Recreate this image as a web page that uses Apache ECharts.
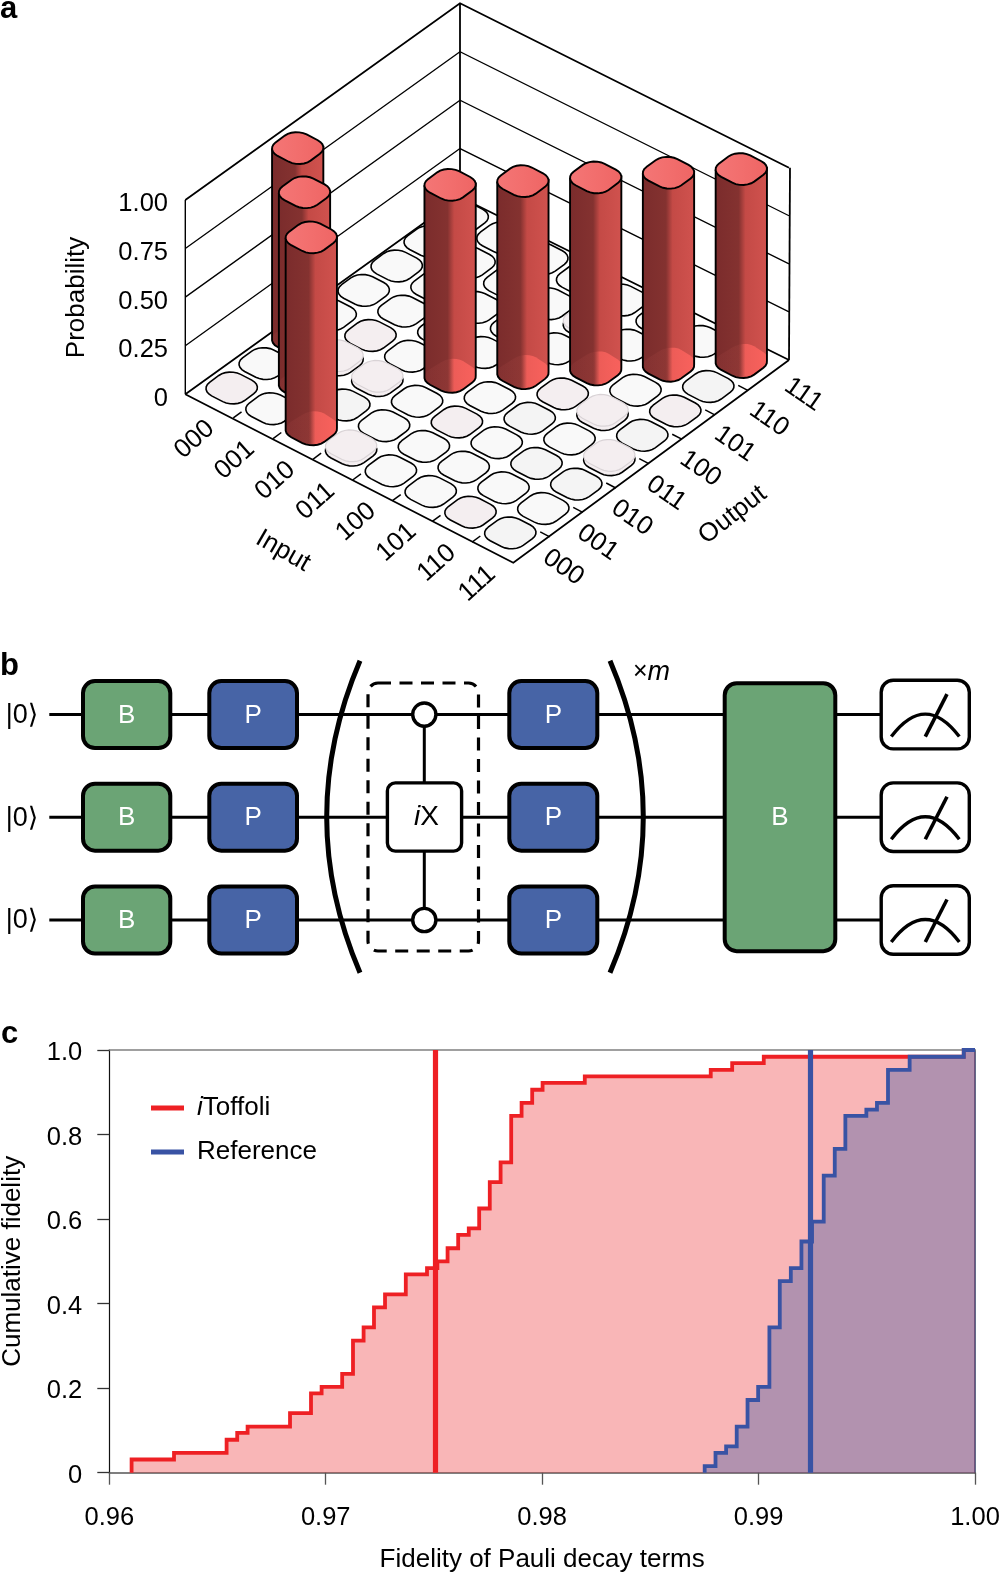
<!DOCTYPE html>
<html><head><meta charset="utf-8">
<style>html,body{margin:0;padding:0;background:#fff}#chart{width:1000px;height:1573px}</style>
<script src="https://cdn.jsdelivr.net/npm/echarts@6/dist/echarts.min.js"></script>
</head><body><div id="chart"></div>
<script>
// ---------- DATA ----------
const inputLabels = ['000','001','010','011','100','101','110','111'];
const outputLabels = ['000','001','010','011','100','101','110','111'];
const probabilityTicks = [0, 0.25, 0.5, 0.75, 1];
const probabilityTickLabels = ['0','0.25','0.50','0.75','1.00'];
// rows: input, columns: output
const probabilityMatrix = [
 [.012,.004,.985,.004,.004,.004,.004,.004],
 [.004,.990,.022,.012,.004,.004,.004,.004],
 [.990,.006,.022,.004,.004,.004,.004,.004],
 [.022,.004,.004,.990,.004,.004,.004,.004],
 [.004,.004,.012,.004,.990,.004,.022,.004],
 [.004,.004,.004,.006,.012,.990,.004,.004],
 [.012,.004,.006,.004,.022,.004,.995,.004],
 [.006,.004,.006,.022,.006,.012,.006,.995]
];
const gateRows = ['|0⟩','|0⟩','|0⟩'];
const fidelityTicks = [0.96,0.97,0.98,0.99,1.00];
const iToffoliX = [.96103,.96103,.96299,.96542,.96591,.96639,.96835,.96932,.96981,.97076,.97126,.97175,.97223,.97274,.97370,.97468,.97516,.97563,.97612,.97661,.97709,.97758,.97808,.97857,.97905,.97954,.98002,.98197,.98779,.98878,.99024,.99948,1.0];
const iToffoliY = [0,.03125,.047,.078,.094,.109,.141,.1875,.203,.234,.3125,.344,.391,.422,.469,.484,.5,.531,.5625,.578,.625,.6875,.734,.844,.875,.906,.922,.9375,.953,.969,.984,1,1];
const referenceX = [.98751,.98751,.98801,.98850,.98899,.98949,.98998,.99050,.99098,.99149,.99198,.99247,.99301,.99352,.99401,.99498,.99547,.99598,.99698,.99948,1.0];
const referenceY = [0,.0156,.047,.0625,.109,.172,.203,.344,.453,.484,.547,.594,.703,.766,.844,.859,.875,.953,.984,1,1];
const iToffoliMean = 0.97508;
const referenceMean = 0.99238;

// ---------- LAYOUT / STYLE ----------
const FONT = '"Liberation Sans", "DejaVu Sans", Arial, sans-serif';
const RED = '#EE2024', BLUE = '#3953A4', GREEN = '#6BA475', PBLUE = '#4764A6', INK = '#000';
const cellOrigin = [231.7, 388], du = [39.8, 20.7], dv = [33, -24.4], zScale = 194;
const corners = {left:[185.3,394.3], back:[460,197], right:[789,360], front:[513.3,562.7]};
function project(i, o, p) {
  return [cellOrigin[0] + du[0]*i + dv[0]*o, cellOrigin[1] + du[1]*i + dv[1]*o - (p||0)*zScale];
}
const footprint = (function () {
  const h = .44, r = .3, c = h - r, out = [];
  [[-1,-1,180],[1,-1,270],[1,1,0],[-1,1,90]].forEach(function (q) {
    for (let k = 0; k <= 6; k++) {
      const t = (q[2] + 15*k) * Math.PI/180;
      out.push([q[0]*c + r*Math.cos(t), q[1]*c + r*Math.sin(t)]);
    }
  });
  return out;
})();
function outline(i, o, lift) {
  return footprint.map(function (f) { const q = project(i+f[0], o+f[1], 0); return [q[0], q[1]-lift]; });
}
function grad(stops) {
  return new echarts.graphic.LinearGradient(0,0,1,0, stops.map(function(s){return {offset:s[0],color:s[1]};}));
}
function tileFill(p) {
  if (p >= .01) return '#f4eef0';
  return p > .005 ? '#f4f4f4' : '#f9f9f9';
}
function renderCell(params, api) {
  const i = api.value(0), o = api.value(1), p = api.value(2), kids = [];
  if (p < .5) {
    const base = outline(i,o,0);
    kids.push({type:'polygon',shape:{points:base},style:{fill:tileFill(p),stroke:INK,lineWidth:1.6}});
    if (p > .015) {
      kids.push({type:'polygon',shape:{points:outline(i,o,p*zScale)},style:{fill:tileFill(p),stroke:'#d9d3d6',lineWidth:1.2}});
    }
    return {type:'group',children:kids};
  }
  const bottom = outline(i,o,0), top = outline(i,o,p*zScale), n = bottom.length;
  let lo = 0, hi = 0;
  bottom.forEach(function(q,k){ if (q[0]<bottom[lo][0]) lo=k; if (q[0]>bottom[hi][0]) hi=k; });
  const lower = [];
  for (let k = lo; ; k = (k+1)%n) { lower.push(bottom[k]); if (k===hi) break; }
  const L = lower[0], R = lower[lower.length-1];
  const body = lower.concat([[R[0],top[hi][1]],[L[0],top[lo][1]]]);
  const mirrored = lower.slice().reverse().map(function(q){
    const t = (q[0]-L[0])/(R[0]-L[0]), yc = L[1]+(R[1]-L[1])*t;
    return [q[0], 2*yc-q[1]-2];
  });
  kids.push({type:'polygon',shape:{points:body},style:{fill:grad([[0,'#7b2c2c'],[.45,'#843230'],[.58,'#c44a46'],[1,'#d0524e']])}});
  kids.push({type:'polygon',shape:{points:lower.concat(mirrored)},style:{fill:grad([[0,'rgba(200,90,90,.1)'],[.48,'rgba(210,90,85,.12)'],[.58,'rgba(255,100,95,.7)'],[1,'rgba(255,100,95,.85)'] ])}});
  kids.push({type:'polygon',shape:{points:body},style:{fill:'none',stroke:INK,lineWidth:1.9}});
  kids.push({type:'polygon',shape:{points:top},style:{fill:grad([[0,'#f47676'],[.5,'#f26e6d'],[1,'#ee6564']]),stroke:INK,lineWidth:1.9}});
  return {type:'group',children:kids};
}
function renderWall(params, api) {
  const p = api.value(0), idx = params.dataIndex;
  const y = function(c, h){ return [c[0], c[1]-p*h]; };
  const wide = (p === 1 || p === 0) ? 1.8 : 1.3;
  const kids = [{type:'polyline',shape:{points:[y(corners.left,194.3),y(corners.back,193.7),y(corners.right,192.3)]},style:{fill:'none',stroke:INK,lineWidth:wide}},
    {type:'text',x:168,y:corners.left[1]+4.5-p*194.6,style:{text:probabilityTickLabels[idx],align:'right',verticalAlign:'middle',fontSize:25.5,fontFamily:FONT,fill:'#000'}}];
  if (p === 1) {
    kids.push({type:'line',shape:{x1:corners.left[0],y1:corners.left[1],x2:corners.left[0],y2:corners.left[1]-194.3},style:{stroke:INK,lineWidth:1.4}});
    kids.push({type:'line',shape:{x1:corners.back[0],y1:corners.back[1],x2:corners.back[0],y2:corners.back[1]-193.7},style:{stroke:INK,lineWidth:1.8}});
    kids.push({type:'line',shape:{x1:corners.right[0],y1:corners.right[1],x2:corners.right[0]+1,y2:corners.right[1]-192.3},style:{stroke:INK,lineWidth:1.8}});
    kids.push({type:'polyline',shape:{points:[corners.left,corners.front,corners.right]},style:{fill:'none',stroke:INK,lineWidth:1.8}});
  }
  return {type:'group',children:kids};
}
const inputLabelStart = [194.5, 439.5], inputLabelStep = [40.4, 20.6];
const outputLabelStart = [563.3, 567.5], outputLabelStep = [34.3, -24.7];
function renderInputAxis(params, api) {
  const i = api.value(0), kids = [];
  kids.push({type:'text',x:inputLabelStart[0]+inputLabelStep[0]*i,y:inputLabelStart[1]+inputLabelStep[1]*i,rotation:42*Math.PI/180,style:{text:inputLabels[i],align:'center',verticalAlign:'middle',fontSize:26,fontFamily:FONT,fill:'#000'}});
  if (i < 7) {
    const a = project(i+.62,-.7), b = project(i+.62,-.45);
    kids.push({type:'line',shape:{x1:a[0],y1:a[1],x2:b[0],y2:b[1]},style:{stroke:INK,lineWidth:1.5}});
  }
  return {type:'group',children:kids};
}
function renderOutputAxis(params, api) {
  const o = api.value(0), kids = [];
  kids.push({type:'text',x:outputLabelStart[0]+outputLabelStep[0]*o,y:outputLabelStart[1]+outputLabelStep[1]*o,rotation:-35*Math.PI/180,style:{text:outputLabels[o],align:'center',verticalAlign:'middle',fontSize:26,fontFamily:FONT,fill:'#000'}});
  if (o < 7) {
    const a = project(7.66,o+.4), b = project(7.42,o+.4);
    kids.push({type:'line',shape:{x1:a[0],y1:a[1],x2:b[0],y2:b[1]},style:{stroke:INK,lineWidth:1.5}});
  }
  return {type:'group',children:kids};
}
const cellData = [];
probabilityMatrix.forEach(function(row,i){ row.forEach(function(p,o){ cellData.push([i,o,p]); }); });
cellData.sort(function(a,b){ return (a[2]>.5)-(b[2]>.5) || (project(a[0],a[1])[1]-project(b[0],b[1])[1]); });

// ---------- PANEL B DIAGRAM ----------
const wireY = [714.6, 817.2, 920], GH = 71;
function txt(s,x,y,size,fill,extra){ return Object.assign({type:'text',x:x,y:y,silent:true,style:{text:s,align:'center',verticalAlign:'middle',fontSize:size,fontFamily:FONT,fill:fill||'#000'}},extra||{}); }
function box(x,yc,w,h,fill,r,lw){ return {type:'rect',shape:{x:x+lw/2,y:yc-h/2+lw/2,width:w-lw,height:h-lw,r:r},style:{fill:fill,stroke:INK,lineWidth:lw}}; }
function gate(x,yc,w,h,fill,label){ return [box(x,yc,w,h,fill,12,4),txt(label,x+w/2,yc+1,26,'#fff')]; }
const diagram = [];
wireY.forEach(function(y){
  diagram.push({type:'line',shape:{x1:49.3,y1:y,x2:880,y2:y},style:{stroke:INK,lineWidth:3}});
});
diagram.push({type:'rect',shape:{x:368,y:683,width:110.5,height:268,r:10},style:{fill:'none',stroke:INK,lineWidth:3.2,lineDash:[13,8.5]}});
wireY.forEach(function(y,k){
  diagram.push(txt(gateRows[k],22,y+1,27,'#000'));
  gate(81,y,91.3,GH,GREEN,'B').forEach(function(e){diagram.push(e);});
  gate(207.3,y,91.7,GH,PBLUE,'P').forEach(function(e){diagram.push(e);});
  gate(507.3,y,92,GH,PBLUE,'P').forEach(function(e){diagram.push(e);});
  diagram.push(box(879.5,y,91.5,GH+1,'#fff',12,3.4));
  const cx = 925.3;
  diagram.push({type:'bezierCurve',shape:{x1:cx-34,y1:y+22,cpx1:cx,cpy1:y-23,x2:cx+34,y2:y+22},style:{fill:'none',stroke:INK,lineWidth:3.4}});
  diagram.push({type:'line',shape:{x1:cx,y1:y+22,x2:cx+21.7,y2:y-20.5},style:{stroke:INK,lineWidth:3.6}});
});
gate(722.7,817.2,114.6,272,GREEN,'B').forEach(function(e){diagram.push(e);});
diagram.push({type:'line',shape:{x1:424.3,y1:714.6,x2:424.3,y2:920},style:{stroke:INK,lineWidth:3}});
[714.6,920].forEach(function(y){ diagram.push({type:'circle',shape:{cx:424.3,cy:y,r:11.6},style:{fill:'#fff',stroke:INK,lineWidth:3.4}}); });
diagram.push(box(385.7,817,77.6,71.6,'#fff',8,3.4));
diagram.push({type:'text',x:426.5,y:817.5,style:{text:'{a|i}{b|X}',align:'center',verticalAlign:'middle',rich:{a:{fontSize:28,fontStyle:'italic',fontFamily:FONT,fill:'#000'},b:{fontSize:28,fontFamily:FONT,fill:'#000'}}}});
diagram.push({type:'bezierCurve',shape:{x1:360,y1:660.7,cpx1:293.4,cpy1:816.7,x2:360,y2:972.7},style:{fill:'none',stroke:INK,lineWidth:5}});
diagram.push({type:'bezierCurve',shape:{x1:610,y1:660.7,cpx1:676.6,cpy1:816.7,x2:610,y2:972.7},style:{fill:'none',stroke:INK,lineWidth:5}});
diagram.push({type:'text',x:633,y:672,style:{text:'{a|×}{b|m}',align:'left',verticalAlign:'middle',rich:{a:{fontSize:25,fontFamily:FONT,fill:'#000'},b:{fontSize:27,fontStyle:'italic',fontFamily:FONT,fill:'#000'}}}});
// panel letters and 3D axis titles
diagram.push({type:'text',x:0,y:9,style:{text:'a',align:'left',verticalAlign:'middle',fontSize:31,fontWeight:'bold',fontFamily:FONT,fill:'#000'}});
diagram.push({type:'text',x:0,y:666,style:{text:'b',align:'left',verticalAlign:'middle',fontSize:31,fontWeight:'bold',fontFamily:FONT,fill:'#000'}});
diagram.push({type:'text',x:1,y:1034,style:{text:'c',align:'left',verticalAlign:'middle',fontSize:31,fontWeight:'bold',fontFamily:FONT,fill:'#000'}});
diagram.push(txt('Probability',76.5,297.5,26,'#000',{rotation:Math.PI/2}));
diagram.push(txt('Input',283,551,26,'#000',{rotation:-30*Math.PI/180}));
diagram.push(txt('Output',732.7,515,26,'#000',{rotation:38*Math.PI/180}));

function steps(xs,ys){ return xs.map(function(x,k){ return [x,ys[k]]; }); }
const axisLineStyle = function(color,w){ return {show:true,onZero:false,lineStyle:{color:color,width:w}}; };
const option = {
  animation:false,
  backgroundColor:'#fff',
  textStyle:{fontFamily:FONT},
  graphic:{elements:diagram},
  grid:{left:109.3,right:25,top:1050,bottom:100.3,containLabel:false,outerBoundsMode:'none'},
  legend:{
    data:['iToffoli','Reference'],orient:'vertical',left:151,top:1095,padding:0,itemGap:18,
    icon:'rect',itemWidth:33,itemHeight:5,selectedMode:false,
    formatter:function(n){ return n==='iToffoli' ? '{i|i}{n|Toffoli}' : '{n|'+n+'}'; },
    textStyle:{fontSize:26,fontFamily:FONT,color:'#000',padding:[0,0,0,8],
      rich:{i:{fontSize:26,fontStyle:'italic',fontFamily:FONT,color:'#000'},n:{fontSize:26,fontFamily:FONT,color:'#000'}}}
  },
  xAxis:[{type:'value',min:0.96,max:1,interval:0.01,
    name:'Fidelity of Pauli decay terms',nameLocation:'middle',nameGap:74,
    nameTextStyle:{fontSize:26,fontFamily:FONT,color:'#000'},
    axisLine:axisLineStyle('#555',1.5),
    axisTick:{show:true,length:12,lineStyle:{color:'#555',width:1.3}},
    axisLabel:{fontSize:25.5,fontFamily:FONT,color:'#000',margin:32,showMinLabel:true,showMaxLabel:true,hideOverlap:false,
      formatter:function(v){ return fidelityTicks.map(function(t){return t.toFixed(2);}).indexOf(v.toFixed(2))>=0 ? v.toFixed(2) : ''; }},
    splitLine:{show:false}},
    {type:'value',min:0.96,max:1,position:'top',axisLine:axisLineStyle('#808080',1.7),axisTick:{show:false},axisLabel:{show:false},splitLine:{show:false}}],
  yAxis:[{type:'value',min:0,max:1,interval:0.2,
    name:'Cumulative fidelity',nameLocation:'middle',nameGap:83,
    nameTextStyle:{fontSize:26,fontFamily:FONT,color:'#000'},
    axisLine:axisLineStyle('#111',1.2),
    axisTick:{show:true,length:12,lineStyle:{color:'#333',width:1.3}},
    axisLabel:{fontSize:25.5,fontFamily:FONT,color:'#000',margin:27,verticalAlign:'top',lineHeight:6,
      formatter:function(v){ return v===0 ? '0' : v.toFixed(1); }},
    splitLine:{show:false}},
    {type:'value',min:0,max:1,position:'right',axisLine:axisLineStyle('#2f3a60',1.5),axisTick:{show:false},axisLabel:{show:false},splitLine:{show:false}}],
  series:[
    {type:'custom',name:'walls',coordinateSystem:'none',z:2,silent:true,renderItem:renderWall,data:probabilityTicks.map(function(p){return [p];})},
    {type:'custom',name:'inputAxis',coordinateSystem:'none',z:3,silent:true,renderItem:renderInputAxis,data:inputLabels.map(function(_,k){return [k];})},
    {type:'custom',name:'outputAxis',coordinateSystem:'none',z:3,silent:true,renderItem:renderOutputAxis,data:outputLabels.map(function(_,k){return [k];})},
    {type:'custom',name:'cells',coordinateSystem:'none',z:4,silent:true,renderItem:renderCell,data:cellData},
    {type:'line',name:'iToffoli',step:'end',showSymbol:false,symbol:'none',z:5,silent:true,
      data:steps(iToffoliX,iToffoliY),itemStyle:{color:RED},
      lineStyle:{color:RED,width:3.8,join:'miter',cap:'butt'},
      areaStyle:{color:RED,opacity:.33},
      markLine:{silent:true,symbol:'none',precision:6,z:7,label:{show:false},animation:false,lineStyle:{color:RED,width:5.2,type:'solid'},data:[{xAxis:iToffoliMean}]}},
    {type:'line',name:'Reference',step:'end',showSymbol:false,symbol:'none',z:6,silent:true,
      data:steps(referenceX,referenceY),itemStyle:{color:BLUE},
      lineStyle:{color:BLUE,width:3.8,join:'miter',cap:'butt'},
      areaStyle:{color:BLUE,opacity:.37},
      markLine:{silent:true,symbol:'none',precision:6,z:8,label:{show:false},animation:false,lineStyle:{color:BLUE,width:5.2,type:'solid'},data:[{xAxis:referenceMean}]}}
  ]
};
const chart = echarts.init(document.getElementById('chart'),null,{renderer:'canvas'});
chart.setOption(option);
</script></body></html>
